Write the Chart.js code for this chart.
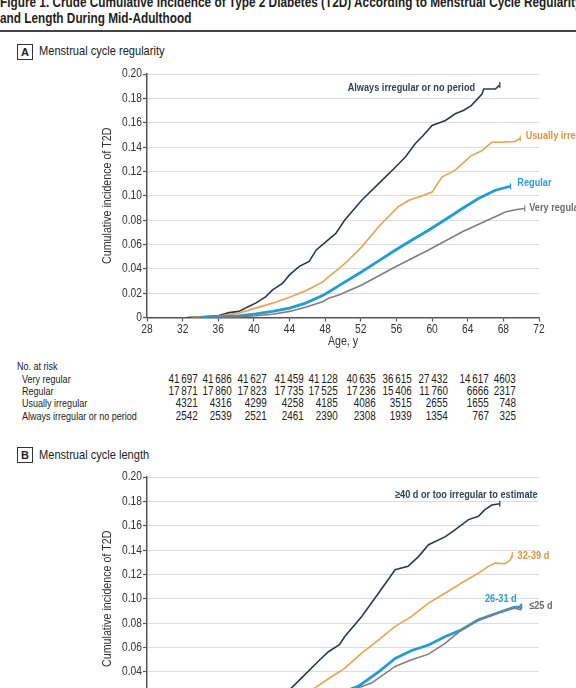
<!DOCTYPE html>
<html><head><meta charset="utf-8">
<script src="https://cdn.jsdelivr.net/npm/chart.js@4.4.1/dist/chart.umd.min.js"></script>
<style>
html,body{margin:0;padding:0;width:576px;height:688px;overflow:hidden;background:#fff;}
body{position:relative;font-family:'Liberation Sans',Arial,sans-serif;color:#222;}
.abs{position:absolute;white-space:nowrap;}
.nar{display:inline-block;transform:scaleX(0.82);transform-origin:left center;}
.narR{display:inline-block;transform:scaleX(0.82);transform-origin:right center;}
.title{font-weight:bold;font-size:14.4px;line-height:16px;color:#231f20;}
.sep{position:absolute;left:0;top:30px;width:576px;height:1.5px;background:#444;}
.box{position:absolute;width:14px;height:14px;border:1px solid #333;font-weight:bold;font-size:11px;line-height:14px;text-align:center;color:#222;}
.ptitle{font-size:13.5px;line-height:16px;color:#222;}
.risk{font-size:11px;line-height:12px;color:#222;}
.num{font-size:12px;line-height:12px;color:#222;text-align:right;}
canvas{position:absolute;left:0;}
</style></head><body>
<div class="abs title" style="left:0;top:-6px;"><span class="nar">Figure 1. Crude Cumulative Incidence of Type 2 Diabetes (T2D) According to Menstrual Cycle Regularity</span></div>
<div class="abs title" style="left:0;top:10px;"><span class="nar">and Length During Mid-Adulthood</span></div>
<div class="sep"></div>
<div class="box" style="left:17px;top:44px;">A</div>
<div class="abs ptitle" style="left:39px;top:43px;"><span class="nar">Menstrual cycle regularity</span></div>
<canvas id="cA" width="576" height="289" style="top:60px;"></canvas>
<div id="riskTable"></div>
<div class="box" style="left:17px;top:447px;">B</div>
<div class="abs ptitle" style="left:39px;top:447px;"><span class="nar">Menstrual cycle length</span></div>
<canvas id="cB" width="576" height="289" style="top:463px;"></canvas>
<script>
// ---------- Panel A data (age, cumulative incidence) ----------
const alwaysAges = [32.5, 34, 36, 37.2, 38.3, 39.4, 40.2, 41.3, 42.1, 43.2, 44, 45.1, 46.2, 47, 48.1, 49.2, 50.2, 52.1, 54, 55.9, 57, 58.1, 59, 60, 61.5, 62.6, 63.5, 64.4, 65.6, 65.8, 67.1, 67.6];
const alwaysVals = [0, 0.0005, 0.0015, 0.004, 0.005, 0.009, 0.0118, 0.017, 0.0227, 0.028, 0.035, 0.042, 0.046, 0.0555, 0.0624, 0.069, 0.080, 0.0963, 0.110, 0.1236, 0.1318, 0.1427, 0.1495, 0.1577, 0.1618, 0.1673, 0.170, 0.174, 0.1836, 0.1877, 0.1877, 0.191];
const usuallyAges = [33, 36, 38.3, 40.2, 42.1, 44, 45.8, 47.7, 48.4, 49.5, 50.6, 52.1, 54, 56.2, 57.4, 58.9, 60, 61.1, 62.6, 64.4, 65.6, 66.7, 67.8, 69.3, 69.9];
const usuallyVals = [0, 0.001, 0.0036, 0.0077, 0.0118, 0.0167, 0.022, 0.029, 0.0335, 0.040, 0.047, 0.058, 0.0745, 0.091, 0.0963, 0.100, 0.103, 0.1154, 0.121, 0.133, 0.137, 0.144, 0.144, 0.1446, 0.147];
const regularAges = [34, 36, 38.3, 40.2, 42.1, 44, 45.8, 47.7, 48.4, 49.5, 52.1, 54, 55.9, 57.7, 59.6, 61.5, 63.4, 65.2, 67.1, 68.8];
const regularVals = [0, 0.0005, 0.0014, 0.003, 0.005, 0.0077, 0.0118, 0.018, 0.021, 0.026, 0.0376, 0.0465, 0.0554, 0.0635, 0.0717, 0.0805, 0.0895, 0.0977, 0.1045, 0.1078];
const veryAges = [35, 38, 40.2, 42.1, 44, 45.8, 47.7, 48.4, 49.6, 52.1, 55.9, 59.6, 63.4, 66.4, 68.3, 69.5, 70.4];
const veryVals = [0, 0.0005, 0.0014, 0.0027, 0.005, 0.0085, 0.013, 0.0158, 0.0186, 0.0267, 0.0417, 0.0554, 0.0704, 0.0805, 0.0868, 0.0887, 0.0895];

// ---------- Panel B data ----------
const irregAges = [33, 36, 38, 40, 42, 44.2, 45.5, 47.4, 48.4, 49.6, 50.2, 52.1, 54, 55.85, 57.3, 58.5, 59.6, 61.5, 62.6, 64.1, 65.2, 65.9, 66.7, 67.6];
const irregVals = [0, 0.001, 0.004, 0.009, 0.017, 0.0266, 0.036, 0.0499, 0.0567, 0.0622, 0.069, 0.0855, 0.1047, 0.1238, 0.1266, 0.1348, 0.1444, 0.151, 0.1567, 0.165, 0.1677, 0.173, 0.177, 0.178];
const len32Ages = [34, 37, 40, 43, 45.5, 46.9, 48.4, 49.6, 50.2, 52.1, 54, 55.85, 57.7, 59.6, 61.5, 63.3, 65.2, 66.3, 67.1, 68.2, 68.8, 69.0];
const len32Vals = [0, 0.002, 0.006, 0.013, 0.021, 0.027, 0.0345, 0.040, 0.043, 0.0553, 0.0663, 0.0773, 0.0855, 0.0964, 0.1047, 0.1129, 0.121, 0.1266, 0.1293, 0.1288, 0.132, 0.136];
const len26Ages = [35, 40, 44, 48, 51.7, 54, 55.85, 57.7, 59.6, 61.5, 63.3, 65.2, 67.1, 68.6, 69.3, 69.9];
const len26Vals = [0, 0.004, 0.009, 0.018, 0.028, 0.040, 0.0509, 0.0575, 0.062, 0.069, 0.0745, 0.0827, 0.0877, 0.0915, 0.0932, 0.0932];
const len25Ages = [35, 40, 44, 48, 53.2, 55.85, 57.7, 59.6, 61.5, 63.3, 65.2, 67.1, 68.6, 69.3, 69.9, 70.05];
const len25Vals = [0, 0.003, 0.008, 0.017, 0.0307, 0.0444, 0.0499, 0.0545, 0.0636, 0.0745, 0.0827, 0.0877, 0.0915, 0.0923, 0.091, 0.0937];

// ---------- Number at risk ----------
const riskGroups = ['Very regular', 'Regular', 'Usually irregular', 'Always irregular or no period'];
const riskVeryRegular = [41697, 41686, 41627, 41459, 41128, 40635, 36615, 27432, 14617, 4603];
const riskRegular = [17871, 17860, 17823, 17735, 17525, 17236, 15406, 11760, 6666, 2317];
const riskUsually = [4321, 4316, 4299, 4258, 4185, 4086, 3515, 2655, 1655, 748];
const riskAlways = [2542, 2539, 2521, 2461, 2390, 2308, 1939, 1354, 767, 325];

// ---------- layout / style (not data) ----------
const FONT = "'Liberation Sans',Arial,sans-serif";
const NARROW = 0.82;
const C_DARK = '#2c3b48', C_ORANGE = '#e9a34d', C_BLUE = '#209dd3', C_GRAY = '#7f7f7f';
const riskColRight = [198, 232, 267, 304, 338, 376, 412, 448, 489, 516];
const riskRowTop = [372.5, 385, 397, 409.5];

// build table
(function(){
  const t = document.getElementById('riskTable');
  const fmt = n => n >= 10000 ? String(n).replace(/(\d+)(\d{3})$/, '$1\u2009$2') : String(n);
  let h = '<div class="abs risk" style="left:17px;top:360px;"><span class="nar">No. at risk</span></div>';
  const rows = [riskVeryRegular, riskRegular, riskUsually, riskAlways];
  rows.forEach((r, i) => {
    h += `<div class="abs risk" style="left:22px;top:${riskRowTop[i]}px;"><span class="nar">${riskGroups[i]}</span></div>`;
    r.forEach((n, j) => {
      h += `<div class="abs num" style="left:${riskColRight[j]-50}px;width:50px;top:${riskRowTop[i]}px;"><span class="narR">${fmt(n)}</span></div>`;
    });
  });
  t.innerHTML = h;
})();

// narrow-text plugin: draws all chart text horizontally condensed (like a narrow typeface)
const narrowText = {
  id: 'narrowText',
  beforeInit(chart) {
    const ctx = chart.ctx;
    const base = CanvasRenderingContext2D.prototype.fillText;
    ctx.fillText = function(text, x, y, maxWidth) {
      this.save();
      this.translate(x, y);
      this.scale(NARROW, 1);
      if (maxWidth === undefined || maxWidth === null) base.call(this, text, 0, 0);
      else base.call(this, text, 0, 0, maxWidth / NARROW);
      this.restore();
    };
  }
};

function ds(label, ages, vals, color, width) {
  const last = ages.length - 1;
  return {
    label, data: ages.map((a, i) => ({x: a, y: vals[i]})),
    borderColor: color, borderWidth: width, fill: false, tension: 0,
    pointRadius: ctx => ctx.dataIndex === last ? 3 : 0,
    pointStyle: 'line', rotation: 90,
    pointBorderColor: color, pointBorderWidth: 1.2, pointBackgroundColor: color
  };
}

function labelPlugin(items) {
  return {
    id: 'lineLabels',
    afterDatasetsDraw(chart) {
      const {ctx, scales: {x, y}} = chart;
      ctx.save();
      items.forEach(it => {
        ctx.font = `bold 11.2px ${FONT}`;
        ctx.fillStyle = it.color;
        ctx.textAlign = it.align;
        ctx.textBaseline = 'middle';
        ctx.fillText(it.text, x.getPixelForValue(it.age), y.getPixelForValue(it.val));
      });
      ctx.restore();
    }
  };
}

function makeChart(id, datasets, items) {
  return new Chart(document.getElementById(id), {
    type: 'line',
    data: {datasets},
    options: {
      responsive: false, animation: false, devicePixelRatio: 1,
      layout: {padding: {left: 100, right: 37, top: 14, bottom: 0}},
      plugins: {legend: {display: false}, tooltip: {enabled: false}},
      scales: {
        x: {
          type: 'linear', min: 28, max: 72,
          ticks: {stepSize: 4, color: '#333', font: {family: FONT, size: 12.5}, padding: 1, maxRotation: 0, autoSkip: false},
          grid: {drawOnChartArea: false, drawTicks: true, tickLength: 4, tickColor: '#555', tickWidth: 1.2},
          border: {display: true, color: '#555', width: 1.5},
          title: {display: true, text: 'Age, y', color: '#333', font: {family: FONT, size: 13}, padding: {top: 0, bottom: 0}},
          afterFit: s => { s.height = 31.5; }
        },
        y: {
          type: 'linear', min: 0, max: 0.2,
          ticks: {stepSize: 0.02, color: '#333', font: {family: FONT, size: 12.5}, padding: 1,
                  callback: v => v === 0 ? '0' : v.toFixed(2)},
          grid: {color: '#dcdcdc', lineWidth: 1, tickLength: 4, tickColor: '#555', tickWidth: 1.2},
          border: {display: true, color: '#555', width: 1.5},
          title: {display: true, text: 'Cumulative incidence of T2D', color: '#333', font: {family: FONT, size: 13}, padding: {top: 0, bottom: 0}},
          afterFit: s => { s.width = 47; }
        }
      }
    },
    plugins: [narrowText, labelPlugin(items)]
  });
}

makeChart('cA', [
  ds('Very regular', veryAges, veryVals, C_GRAY, 1.6),
  ds('Regular', regularAges, regularVals, C_BLUE, 2.8),
  ds('Usually irregular', usuallyAges, usuallyVals, C_ORANGE, 1.6),
  ds('Always irregular or no period', alwaysAges, alwaysVals, C_DARK, 1.6)
], [
  {text: 'Always irregular or no period', age: 64.83, val: 0.1883, align: 'right', color: '#34434f'},
  {text: 'Usually irregular', age: 70.5, val: 0.1491, align: 'left', color: '#e0933b'},
  {text: 'Regular', age: 69.57, val: 0.1103, align: 'left', color: '#2a9fd4'},
  {text: 'Very regular', age: 70.9, val: 0.0898, align: 'left', color: '#6d6d6d'}
]);

makeChart('cB', [
  ds('≤25 d', len25Ages, len25Vals, C_GRAY, 1.6),
  ds('26-31 d', len26Ages, len26Vals, C_BLUE, 2.8),
  ds('32-39 d', len32Ages, len32Vals, C_ORANGE, 1.6),
  ds('≥40 d or too irregular to estimate', irregAges, irregVals, C_DARK, 1.6)
], [
  {text: '≥40 d or too irregular to estimate', age: 71.85, val: 0.1855, align: 'right', color: '#34434f'},
  {text: '32-39 d', age: 69.6, val: 0.1348, align: 'left', color: '#e0933b'},
  {text: '26-31 d', age: 69.49, val: 0.0998, align: 'right', color: '#2a9fd4'},
  {text: '≤25 d', age: 70.9, val: 0.0945, align: 'left', color: '#6d6d6d'}
]);
</script>
</body></html>
